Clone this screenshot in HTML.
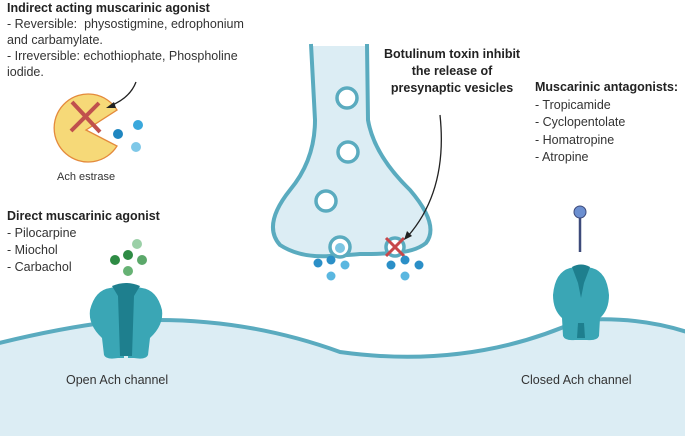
<!DOCTYPE html>
<html><head><style>
body{margin:0;width:685px;height:436px;background:#fff;overflow:hidden;font-family:"Liberation Sans",sans-serif;color:#333}
.t{position:absolute;font-size:12.5px;line-height:16px;color:#333;white-space:nowrap}
b{color:#222}
</style></head><body>
<svg width="685" height="436" style="position:absolute;left:0;top:0">
<path d="M-5,344 Q60,328 110,322 Q230,312 340,352 Q470,370 580,320 Q640,316 690,333 L690,440 L-5,440Z" fill="#dcedf4"/>
<path d="M-5,344 Q60,328 110,322 Q230,312 340,352 Q470,370 580,320 Q640,316 690,333" fill="none" stroke="#5aabbf" stroke-width="4"/>
<!-- terminal -->
<path d="M311,44 L315,120 Q315,160 290,190 Q262,225 280,245 Q300,258 330,256 Q350,255 360,254 Q378,254 392,253 Q415,252 426,243 Q440,225 410,190 Q374,155 368,120 L367,44" fill="#dcedf4" stroke="#5aabbf" stroke-width="4"/>
<rect x="313" y="36" width="52" height="10" fill="#fff"/>
<g fill="#fff" stroke="#5aabbf" stroke-width="3.5">
<circle cx="347" cy="98" r="10"/><circle cx="348" cy="152" r="10"/><circle cx="326" cy="201" r="10"/>
<circle cx="340" cy="247" r="10"/><circle cx="395" cy="247" r="9"/>
</g>
<circle cx="340" cy="248" r="5" fill="#7cc6e3"/>
<path d="M386,238 L404,256 M404,238 L386,256" stroke="#c7474a" stroke-width="3"/>
<g fill="#2b8fc7"><circle cx="318" cy="263" r="4.5"/><circle cx="331" cy="260" r="4.5"/><circle cx="391" cy="265" r="4.5"/><circle cx="405" cy="260" r="4.5"/><circle cx="419" cy="265" r="4.5"/></g>
<g fill="#5ab7e0"><circle cx="345" cy="265" r="4.5"/><circle cx="331" cy="276" r="4.5"/><circle cx="405" cy="276" r="4.5"/></g>
<path d="M440,115 Q448,190 408,236" fill="none" stroke="#222" stroke-width="1.3"/>
<path d="M404,240 l3,-9 l5,5z" fill="#222"/>
<!-- pacman -->
<path d="M117,110 A34,34 0 1 0 117,146 L86,130 Z" fill="#f6d978" stroke="#e48a3c" stroke-width="1.3"/>
<path d="M72,102 L100,132 M99,103 L71,131" stroke="#c0504d" stroke-width="4"/>
<circle cx="118" cy="134" r="5" fill="#1f86c0"/><circle cx="138" cy="125" r="5" fill="#3aa8dc"/><circle cx="136" cy="147" r="5" fill="#7fc8e8"/>
<path d="M136,82 Q130,98 110,106" fill="none" stroke="#222" stroke-width="1.3"/>
<path d="M106,108 l8,-6 l2,6z" fill="#222"/>
<!-- agonist dots -->
<circle cx="137" cy="244" r="5" fill="#9bd0a7"/><circle cx="128" cy="255" r="5" fill="#2e8b44"/><circle cx="115" cy="260" r="5" fill="#2e8b44"/><circle cx="142" cy="260" r="5" fill="#5ba86a"/><circle cx="128" cy="271" r="5" fill="#66b274"/>
<!-- open channel -->
<g>
<path d="M110,288 Q95,290 90,310 Q88,325 102,338 L104,355 Q106,360 118,358 L124,358 L124,285 Z" fill="#3aa6b5"/>
<path d="M142,288 Q157,290 162,310 Q164,325 150,338 L148,355 Q146,360 134,358 L128,358 L128,285 Z" fill="#3aa6b5"/>
<path d="M112,286 Q126,280 140,286 L134,296 L132,356 L120,356 L118,296Z" fill="#1e7f8e"/>
</g>
<!-- closed channel -->
<g>
<path d="M570,268 Q555,272 553,295 Q553,310 562,318 L563,336 Q565,341 575,340 L581,340 L581,266Z" fill="#3aa6b5"/>
<path d="M592,268 Q607,272 609,295 Q609,310 600,318 L599,336 Q597,341 587,340 L581,340 L581,266Z" fill="#3aa6b5"/>
<path d="M572,267 Q581,262 590,267 L584,283 L581,298 L578,283Z" fill="#1e7f8e"/>
<path d="M578,323 L584,323 L585,338 L577,338Z" fill="#1e7f8e"/>
</g>
<line x1="580" y1="214" x2="580" y2="252" stroke="#3d4a7a" stroke-width="2.5"/>
<circle cx="580" cy="212" r="6" fill="#6c8fd0" stroke="#3d4a7a" stroke-width="1"/>
</svg>
<div class="t" style="left:7px;top:0px"><b>Indirect acting muscarinic agonist</b><br>- Reversible:&nbsp; physostigmine, edrophonium<br>and carbamylate.<br>- Irreversible: echothiophate, Phospholine<br>iodide.</div>
<div class="t" style="left:57px;top:169px;font-size:11px">Ach estrase</div>
<div class="t" style="left:7px;top:208px;line-height:17px"><b>Direct muscarinic agonist</b><br>- Pilocarpine<br>- Miochol<br>- Carbachol</div>
<div class="t" style="left:384px;top:46px;text-align:center;line-height:17px"><b>Botulinum toxin inhibit<br>the release of<br>presynaptic vesicles</b></div>
<div class="t" style="left:535px;top:79px;line-height:17.5px"><b>Muscarinic antagonists:</b><br>- Tropicamide<br>- Cyclopentolate<br>- Homatropine<br>- Atropine</div>
<div class="t" style="left:66px;top:372px">Open Ach channel</div>
<div class="t" style="left:521px;top:372px">Closed Ach channel</div>
</body></html>
